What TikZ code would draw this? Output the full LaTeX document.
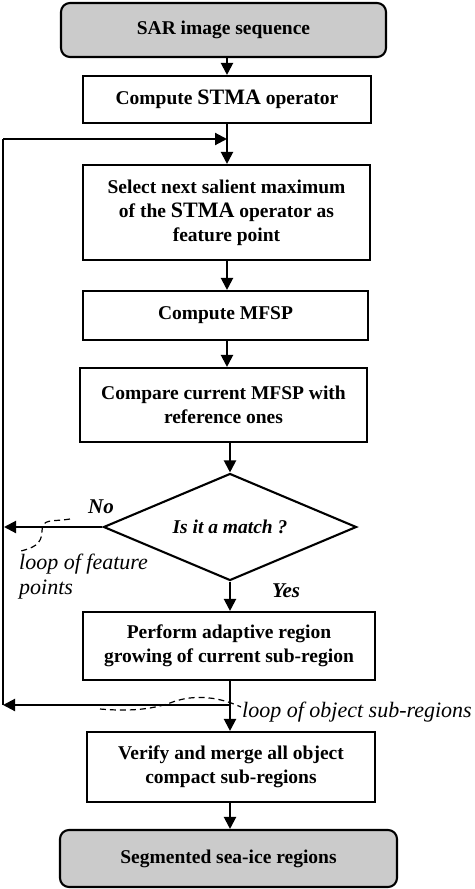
\documentclass[tikz,border=0pt]{standalone}
\usepackage{fontspec}
\setmainfont{Liberation Serif}
\usetikzlibrary{arrows.meta,shapes.geometric}
\newcommand{\bigstma}{{\fontsize{22}{24}\selectfont STMA}}
\tikzset{
  boxfont/.style={font=\bfseries\fontsize{19.5}{24}\selectfont},
  procbox/.style={draw, line width=2.1pt, rectangle, inner sep=0pt, align=center, boxfont, fill=white},
  termbox/.style={draw, line width=2.1pt, rectangle, rounded corners=9pt, inner sep=0pt, align=center, boxfont, fill=termgray},
  decbox/.style={draw, line width=2.1pt, diamond, inner sep=0pt, align=center, font=\bfseries\itshape\fontsize{19.5}{24}\selectfont},
  conn/.style={line width=2.1pt, -{Triangle[length=12pt,width=12pt]}},
  plainline/.style={line width=2.1pt},
  loopnote/.style={line width=1.2pt, dash pattern=on 6pt off 4pt},
  notefont/.style={font=\itshape\fontsize{22}{25}\selectfont, inner sep=0pt},
  yesno/.style={font=\bfseries\itshape\fontsize{21}{24}\selectfont, inner sep=0pt}
}
\definecolor{termgray}{HTML}{CBCBCB}
\begin{document}
\begin{tikzpicture}[x=1pt,y=-1pt]
\useasboundingbox (0,0) rectangle (474,889);

\node[termbox, minimum width=325pt, minimum height=54pt] (sar) at (223.5,30) {SAR image sequence};
\node[procbox, minimum width=288pt, minimum height=47pt] (stma) at (227,99.5) {Compute \bigstma{} operator};
\node[procbox, minimum width=287pt, minimum height=95pt] (sel) at (226.5,212.5) {Select next salient maximum\\ of the \bigstma{} operator as\\ feature point};
\node[procbox, minimum width=285pt, minimum height=49pt] (mfsp) at (225.5,315.5) {Compute MFSP};
\node[procbox, minimum width=287pt, minimum height=74pt] (cmp) at (223.5,405) {Compare current MFSP with\\ reference ones};
\node[decbox, minimum width=253pt, minimum height=107pt, shape aspect=2.36] (dia) at (230,527) {Is it a match ?};
\node[procbox, minimum width=292pt, minimum height=68pt] (perf) at (229,646) {Perform adaptive region\\ growing of current sub-region};
\node[procbox, minimum width=288pt, minimum height=70pt] (ver) at (231,767) {Verify and merge all object\\ compact sub-regions};
\node[termbox, minimum width=337pt, minimum height=57pt] (seg) at (228.5,858.5) {Segmented sea-ice regions};

\coordinate (sp1) at (227,0);
\coordinate (sp2) at (230,0);
\coordinate (j1) at (227,139);
\coordinate (j2) at (230,705);
\coordinate (lt) at (3,139);
\coordinate (lb) at (3,705);
\coordinate (nol) at (4,527);

% main flow
\draw[conn] (sar.south -| sp1) -- (stma.north -| sp1);
\draw[conn] (stma.south -| sp1) -- (sel.north -| sp1);
\draw[conn] (sel.south -| sp1) -- (mfsp.north -| sp1);
\draw[conn] (mfsp.south -| sp1) -- (cmp.north -| sp1);
\draw[conn] (cmp.south -| sp2) -- (dia.north);
\draw[conn] (dia.south) -- (perf.north -| sp2);
\draw[conn] (perf.south -| sp2) -- (ver.north -| sp2);
\draw[conn] (ver.south -| sp2) -- (seg.north -| sp2);

% loops
\draw[plainline] (lb) -- (lt);
\draw[conn] (lt) -- (j1);
\draw[conn] (j2) -- (lb);
\draw[conn] (dia.west) -- (nol);

% labels
\node[yesno] (no) at (101,507) {No};
\node[yesno] (yes) at (286,591) {Yes};
\node[notefont, anchor=west, align=left] (lfp) at (19,577) {loop of feature\\ points};
\node[notefont, anchor=west] (los) at (242,712) {loop of object sub-regions};

% dashed callouts
\draw[loopnote] (70,519) .. controls (52,522) and (42,518) .. (42,531) .. controls (42,545) and (32,548) .. (21,551);
\draw[loopnote] (100,709) .. controls (135,712) and (155,708) .. (170,703) .. controls (190,695) and (215,695) .. (241,707);
\end{tikzpicture}
\end{document}
